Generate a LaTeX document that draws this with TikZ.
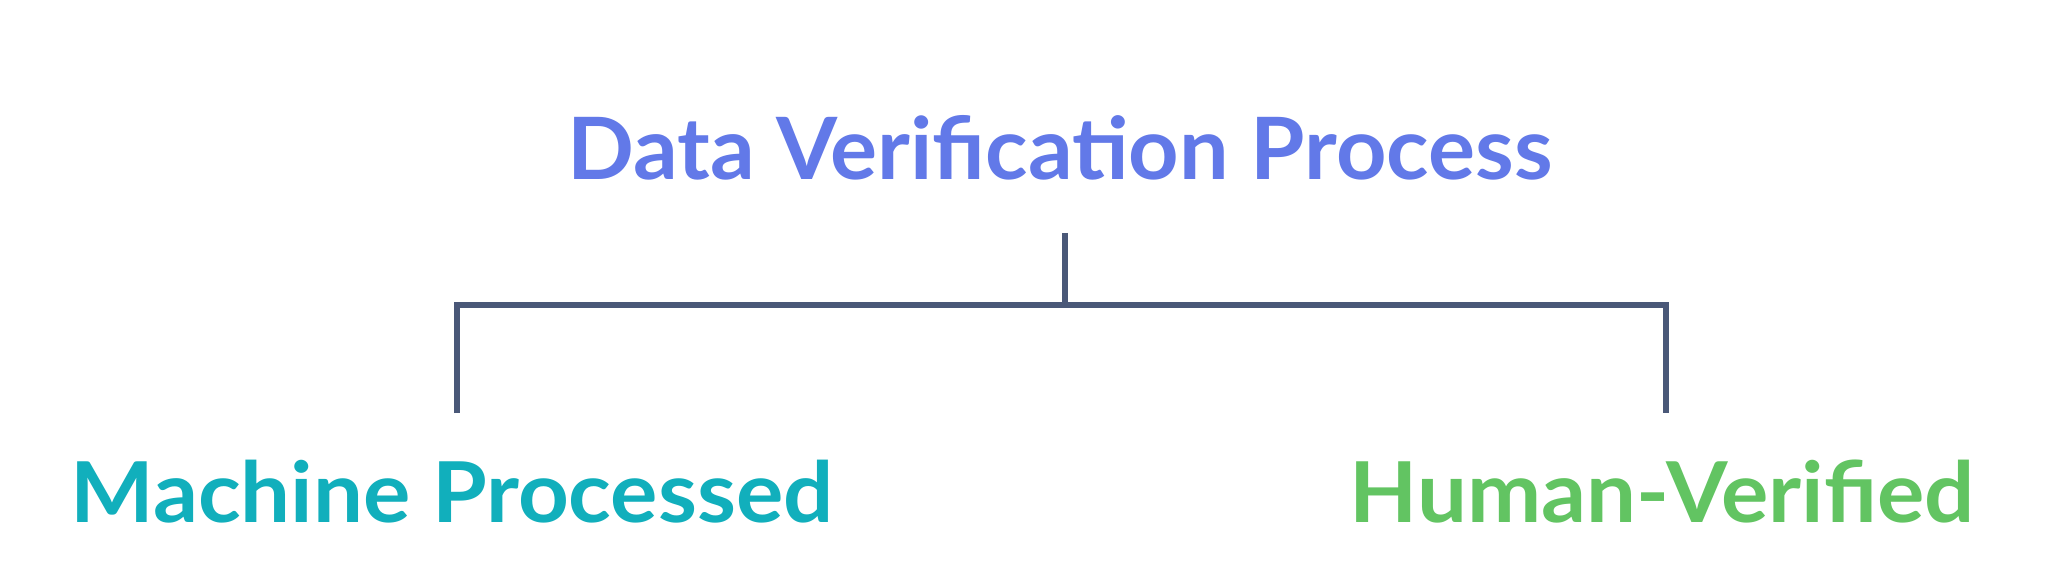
\documentclass[tikz,border=0pt]{standalone}
\usepackage{fontspec}
\setmainfont{Lato}
\newfontfamily\titlefont[FakeStretch=1.024]{Lato}
\newfontfamily\labelfont[FakeStretch=1.055]{Lato}
\definecolor{titleblue}{HTML}{6279E8}
\definecolor{machteal}{HTML}{11AFBC}
\definecolor{humgreen}{HTML}{62C462}
\definecolor{linegray}{HTML}{4A5878}
\tikzset{
  titlelbl/.style={inner sep=0pt, font=\titlefont\fontsize{43}{50}\selectfont\bfseries},
  sublbl/.style={inner sep=0pt, font=\labelfont\fontsize{42}{50}\selectfont\bfseries},
  conn/.style={draw=linegray, line width=3pt, line cap=butt, line join=miter}
}
\begin{document}
\begin{tikzpicture}[x=0.5pt,y=-0.5pt]
\useasboundingbox[fill=white] (0,0) rectangle (2048,587);
\node[titlelbl, text=titleblue, anchor=base west] (title) at (567,180) {Data Verification Process};
\node[sublbl, text=machteal, anchor=base west] (mach) at (70,522) {Machine Processed};
\node[sublbl, text=humgreen, anchor=base east] (hum) at (1975,522) {Human-Verified};
\coordinate (top) at (1065,233);
\coordinate (mid) at (1065,305);
\coordinate (lc) at (456.5,305);
\coordinate (rc) at (1666,305);
\coordinate (lb) at (456.5,413);
\coordinate (rb) at (1666,413);
\draw[conn] (top) -- (mid);
\draw[conn] (lb) -- (lc) -- (rc) -- (rb);
\end{tikzpicture}
\end{document}
